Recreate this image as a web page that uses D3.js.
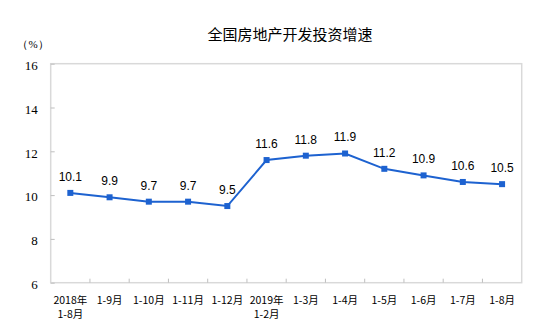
<!DOCTYPE html>
<html><head><meta charset="utf-8">
<script src="https://cdn.jsdelivr.net/npm/d3@7"></script>
<style>body{margin:0;background:#fff}svg{display:block}</style>
</head><body>
<script>
const categories = [["2018年","1-8月"],["1-9月"],["1-10月"],["1-11月"],["1-12月"],["2019年","1-2月"],["1-3月"],["1-4月"],["1-5月"],["1-6月"],["1-7月"],["1-8月"]];
const values = [10.1, 9.9, 9.7, 9.7, 9.5, 11.6, 11.8, 11.9, 11.2, 10.9, 10.6, 10.5];
const yTicks = [6, 8, 10, 12, 14, 16];
const title = "全国房地产开发投资增速";
const unit = "（%）";

const W = 550, H = 333;
const m = {left: 50.7, right: 550 - 521.7, top: 63.7, bottom: 333 - 282.7};
const svg = d3.select("body").append("svg").attr("width", W).attr("height", H);

const x = d3.scaleBand().domain(d3.range(categories.length)).range([m.left, W - m.right]);
const y = d3.scaleLinear().domain([6, 16]).range([H - m.bottom, m.top]);
const color = "#1d62d0";

// plot border
svg.append("rect").attr("x", m.left).attr("y", m.top)
  .attr("width", W - m.left - m.right).attr("height", H - m.top - m.bottom)
  .attr("fill", "none").attr("stroke", "#d9d9d9").attr("stroke-width", 1.5);

// y axis
const yAxis = svg.append("g").attr("transform", `translate(${m.left},0)`)
  .call(d3.axisLeft(y).tickValues(yTicks).tickSizeInner(-4).tickSizeOuter(0).tickPadding(13));
yAxis.attr("font-family", null);
yAxis.select(".domain").remove();
yAxis.selectAll(".tick line").attr("stroke", "#bfbfbf");
yAxis.selectAll(".tick text").attr("font-family", "Liberation Serif").attr("font-size", 13).attr("fill", "#000").attr("dy", "0.45em");

// x axis
const xAxis = svg.append("g").attr("transform", `translate(0,${H - m.bottom})`)
  .call(d3.axisBottom(x).tickSizeInner(0).tickSizeOuter(0).tickFormat(""));
xAxis.select(".domain").remove();
xAxis.selectAll(".tick line").remove();
// category boundary ticks
svg.append("g").selectAll("line").data(d3.range(1, categories.length)).join("line")
  .attr("x1", d => x(d)).attr("x2", d => x(d))
  .attr("y1", H - m.bottom).attr("y2", H - m.bottom - 4)
  .attr("stroke", "#bfbfbf");
xAxis.selectAll(".tick").each(function(d) {
  categories[d].forEach((s, i) => d3.select(this).append("text").attr("fill", "#000")
    .attr("font-family", "Noto Sans CJK SC").attr("font-size", 10.5)
    .attr("text-anchor", "middle").attr("x", 0).attr("y", 21.5 + i * 13.5).text(s));
});

// title & unit
svg.append("text").attr("x", 290).attr("y", 39.5).attr("text-anchor", "middle")
  .attr("font-family", "Noto Sans CJK SC").attr("font-size", 15).attr("fill", "#000").text(title);
svg.append("text").attr("x", 33).attr("y", 48).attr("text-anchor", "middle")
  .attr("font-family", "Liberation Serif").attr("font-size", 11).attr("fill", "#000").text(unit);

// line
const cx = i => x(i) + x.bandwidth() / 2;
svg.append("path").datum(values)
  .attr("fill", "none").attr("stroke", color).attr("stroke-width", 2)
  .attr("d", d3.line().x((d, i) => cx(i)).y(d => y(d)));
svg.append("g").selectAll("rect").data(values).join("rect")
  .attr("x", (d, i) => cx(i) - 3).attr("y", d => y(d) - 3)
  .attr("width", 6).attr("height", 6).attr("fill", color);
svg.append("g").selectAll("text").data(values).join("text")
  .attr("x", (d, i) => cx(i)).attr("y", d => y(d) - 12)
  .attr("text-anchor", "middle").attr("font-family", "Liberation Sans").attr("font-size", 12)
  .attr("fill", "#000").text(d => d.toFixed(1));
</script>
</body></html>
